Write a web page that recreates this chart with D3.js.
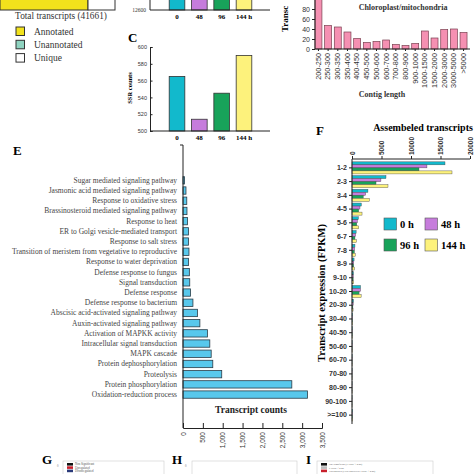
<!DOCTYPE html>
<html>
<head>
<meta charset="utf-8">
<script src="https://cdn.jsdelivr.net/npm/d3@7"></script>
<style>
body { margin: 0; background: #fff; }
svg { display: block; font-family: "Liberation Serif", "Times New Roman", serif; }
.axis path, .axis line { stroke: #222; stroke-width: 1; }
.bold { font-weight: bold; }
</style>
</head>
<body>
<div id="container"></div>
<script>
const width = 474
const height = 474

//-----------------------------DATA-----------------------------//
const timePoints = ['0', '48', '96', '144 h']
const timeLegend = ['0 h', '48 h', '96 h', '144 h']
const timeColors = ['#12b9cc', '#c67cdc', '#18a35a', '#fdf27c']

const legendA = ['Annotated', 'Unannotated', 'Unique']
const legendAColors = ['#f2e21c', '#8fd3c0', '#ffffff']

// panel B: only the base of the bars is visible
const transcriptTotals = [13400, 13350, 13450, 13300]
// panel C
const ssrCounts = [565, 514, 545, 590]

// panel D
const contigBins = ['200-250', '250-300', '300-350', '350-400', '400-450', '450-500', '500-600',
    '600-700', '700-800', '800-900', '900-1000', '1000-1500', '1500-2000', '2000-3000', '3000-5000', '>5000']
const organelleCounts = [130, 47, 44, 34, 21, 13, 15, 18, 9, 7, 11, 36, 22, 39, 40, 33]

// panel E
const goTerms = ['Sugar mediated signaling pathway', 'Jasmonic acid mediated signaling pathway',
    'Response to oxidative stress', 'Brassinosteroid mediated signaling pathway', 'Response to heat',
    'ER to Golgi vesicle-mediated transport', 'Response to salt stress',
    'Transition of meristem from vegetative to reproductive', 'Response to water deprivation',
    'Defense response to fungus', 'Signal transduction', 'Defense response',
    'Defense response to bacterium', 'Abscisic acid-activated signaling pathway',
    'Auxin-activated signaling pathway', 'Activation of MAPKK activity',
    'Intracellular signal transduction', 'MAPK cascade', 'Protein dephosphorylation',
    'Proteolysis', 'Protein phosphorylation', 'Oxidation-reduction process']
const goCounts = [40, 75, 95, 100, 115, 140, 140, 150, 140, 160, 170, 190, 250, 365, 425,
    615, 675, 710, 750, 975, 2740, 3135]
const goTicks = [0, 500, 1000, 1500, 2000, 2500, 3000, 3500]

// panel F
const fpkmBins = ['1-2', '2-3', '3-4', '4-5', '5-6', '6-7', '7-8', '8-9', '9-10', '10-20', '20-30',
    '30-40', '40-50', '50-60', '60-70', '70-80', '80-90', '90-100', '>=100']
const fpkm0 = [15760, 5760, 2700, 1580, 1080, 700, 500, 350, 250, 1450, 250, 90, 60, 50, 40, 35, 30, 25, 90]
const fpkm48 = [12700, 4900, 2300, 1350, 900, 600, 450, 300, 220, 1450, 200, 80, 55, 45, 35, 30, 25, 20, 80]
const fpkm96 = [11350, 4070, 1900, 1130, 800, 500, 400, 280, 200, 1200, 150, 70, 50, 40, 30, 25, 20, 18, 70]
const fpkm144 = [16950, 6100, 2950, 1700, 1130, 750, 550, 400, 280, 1550, 180, 85, 60, 50, 40, 32, 28, 22, 85]
const fpkmTicks = [0, 5000, 10000, 15000, 20000]

// panels G-I (only the tops are visible)
const legendG = ['Non Significant', 'Upregulated', 'Downregulated']
const legendGColors = ['#111', '#c8202c', '#2a3a7a']
const legendI = ['Not Significant (P value > 0.05)', 'P value < 0.05', 'Upregulated (FDR corrected P value < 0.05)']
const legendIColors = ['#111', '#bbb', '#c8202c']

const svg = d3.select('div#container').append('svg')
    .attr('width', width)
    .attr('height', height)

svg.append('rect').attr('width', width).attr('height', height).attr('fill', '#fff')

const letter = (t, x, y) => svg.append('text')
    .attr('x', x).attr('y', y)
    .attr('class', 'bold')
    .style('font-size', '13px')
    .text(t)

//---------------------------PANEL A----------------------------//
svg.append('rect').attr('x', 0).attr('y', -10).attr('width', 88).attr('height', 20)
    .attr('fill', legendAColors[0]).attr('stroke', '#333')
svg.append('rect').attr('x', 88).attr('y', -10).attr('width', 27).attr('height', 20)
    .attr('fill', '#fff').attr('stroke', '#333')
svg.append('text').attr('x', 61).attr('y', 19)
    .attr('text-anchor', 'middle').style('font-size', '9.3px').attr('fill', '#333')
    .text('Total transcripts (41661)')

const legA = svg.append('g').selectAll('g').data(legendA).enter().append('g')
    .attr('transform', (d, i) => `translate(16,${27 + i * 13.3})`)
legA.append('rect').attr('width', 8.5).attr('height', 8.5)
    .attr('fill', (d, i) => legendAColors[i]).attr('stroke', '#333')
legA.append('text').attr('x', 18).attr('y', 7.5)
    .style('font-size', '9.5px').attr('fill', '#333').text(d => d)

//---------------------------PANEL B----------------------------//
const xTime = d3.scaleBand().domain(timePoints).range([162.5, 258.5]).padding(0.3)
const yB = d3.scaleLinear().domain([12600, 12620]).range([10, 0])

svg.append('g').selectAll('rect').data(transcriptTotals).enter().append('rect')
    .attr('x', (d, i) => xTime(timePoints[i]))
    .attr('y', d => Math.max(-5, yB(d)))
    .attr('width', xTime.bandwidth())
    .attr('height', d => yB(12600) - Math.max(-5, yB(d)))
    .attr('fill', (d, i) => timeColors[i]).attr('stroke', '#333').attr('stroke-width', 0.8)

svg.append('line').attr('x1', 150).attr('x2', 270).attr('y1', 10).attr('y2', 10).attr('stroke', '#222')
svg.append('line').attr('x1', 150).attr('x2', 150).attr('y1', 0).attr('y2', 10).attr('stroke', '#222')
svg.append('text').attr('x', 146).attr('y', 12).attr('text-anchor', 'end')
    .style('font-size', '5.5px').attr('fill', '#333').text('12600')
svg.append('g').selectAll('text').data(timePoints).enter().append('text')
    .attr('x', d => xTime(d) + xTime.bandwidth() / 2).attr('y', 19)
    .attr('text-anchor', 'middle').attr('class', 'bold').style('font-size', '7px').text(d => d)

//---------------------------PANEL C----------------------------//
letter('C', 128, 42)
const yC = d3.scaleLinear().domain([500, 600]).range([131, 47])

svg.append('g').selectAll('rect').data(ssrCounts).enter().append('rect')
    .attr('x', (d, i) => xTime(timePoints[i]))
    .attr('y', d => yC(d))
    .attr('width', xTime.bandwidth())
    .attr('height', d => yC(500) - yC(d))
    .attr('fill', (d, i) => timeColors[i]).attr('stroke', '#333').attr('stroke-width', 0.8)

svg.append('g').attr('class', 'axis')
    .attr('transform', 'translate(150,0)')
    .call(d3.axisLeft(yC).tickValues([500, 520, 540, 560, 580, 600]).tickSize(-2.5).tickPadding(3))
    .call(g => g.selectAll('text').style('font-size', '5.5px').attr('fill', '#333'))
svg.append('line').attr('x1', 150).attr('x2', 270).attr('y1', 131).attr('y2', 131).attr('stroke', '#222')
svg.append('g').selectAll('text').data(timePoints).enter().append('text')
    .attr('x', d => xTime(d) + xTime.bandwidth() / 2).attr('y', 140)
    .attr('text-anchor', 'middle').attr('class', 'bold').style('font-size', '7px').text(d => d)
svg.append('text').attr('transform', 'translate(132,88) rotate(-90)')
    .attr('text-anchor', 'middle').attr('class', 'bold').style('font-size', '6.5px').text('SSR counts')

//---------------------------PANEL D----------------------------//
const xD = d3.scaleBand().domain(contigBins).range([314, 468]).paddingInner(0.28).paddingOuter(0.1)
const yD = d3.scaleLinear().domain([0, 100]).range([49, -1])

svg.append('g').selectAll('rect').data(organelleCounts).enter().append('rect')
    .attr('x', (d, i) => xD(contigBins[i]))
    .attr('y', d => Math.max(-5, yD(d)))
    .attr('width', xD.bandwidth())
    .attr('height', d => yD(0) - Math.max(-5, yD(d)))
    .attr('fill', '#f590b2').attr('stroke', '#7a4050').attr('stroke-width', 0.7)

svg.append('g').attr('class', 'axis')
    .attr('transform', 'translate(315,0)')
    .call(d3.axisLeft(yD).tickValues([0, 20, 40, 60, 80]).tickSize(3).tickPadding(2))
    .call(g => g.select('.domain').attr('d', 'M0,-2V49'))
    .call(g => g.selectAll('text').style('font-size', '7px').attr('fill', '#333'))
svg.append('g').attr('class', 'axis')
    .attr('transform', 'translate(0,49)')
    .call(d3.axisBottom(xD).tickSize(2).tickPadding(2))
    .call(g => g.select('.domain').attr('d', 'M315,0H470'))
    .call(g => g.selectAll('text')
        .style('font-size', '7.3px').attr('fill', '#333')
        .attr('transform', 'rotate(-90)')
        .attr('text-anchor', 'end').attr('x', -4).attr('y', 0).attr('dy', '0.32em'))
svg.append('text').attr('x', 403).attr('y', 10).attr('text-anchor', 'middle')
    .attr('class', 'bold').style('font-size', '8px').attr('fill', '#333').text('Chloroplast/mitochondria')
svg.append('text').attr('x', 382).attr('y', 97).attr('text-anchor', 'middle')
    .attr('class', 'bold').style('font-size', '8px').attr('fill', '#333').text('Contig length')
// y title runs off the top of the crop; only its start is visible
svg.append('text').attr('transform', 'translate(288,32) rotate(-90)')
    .attr('class', 'bold').style('font-size', '9px').text('Transc')

//---------------------------PANEL E----------------------------//
letter('E', 13, 155)
const yE = d3.scaleBand().domain(goTerms).range([173.8, 401.1]).padding(0.28)
const xE = d3.scaleLinear().domain([0, 3500]).range([183, 322])

svg.append('g').selectAll('rect').data(goCounts).enter().append('rect')
    .attr('x', xE(0))
    .attr('y', (d, i) => yE(goTerms[i]))
    .attr('width', d => xE(d) - xE(0))
    .attr('height', yE.bandwidth())
    .attr('fill', '#58c8ec').attr('stroke', '#2b3d48').attr('stroke-width', 0.8)

svg.append('g').selectAll('text').data(goTerms).enter().append('text')
    .attr('x', 177).attr('y', d => yE(d) + yE.bandwidth() / 2).attr('dy', '0.32em')
    .attr('text-anchor', 'end').style('font-size', '7.5px').attr('fill', '#444').text(d => d)

svg.append('line').attr('x1', 183).attr('x2', 183).attr('y1', 145).attr('y2', 428).attr('stroke', '#222')
svg.append('line').attr('x1', 183).attr('x2', 180).attr('y1', 145).attr('y2', 145).attr('stroke', '#222')
svg.append('g').attr('class', 'axis')
    .attr('transform', 'translate(0,428)')
    .call(d3.axisBottom(xE).tickValues(goTicks).tickSize(-5).tickPadding(3).tickFormat(d3.format(',')))
    .call(g => g.selectAll('text')
        .style('font-size', '6.5px').attr('fill', '#333')
        .attr('transform', 'rotate(-90)')
        .attr('text-anchor', 'end').attr('x', -4).attr('y', 0).attr('dy', '0.32em'))
svg.append('text').attr('x', 251).attr('y', 413).attr('text-anchor', 'middle')
    .attr('class', 'bold').style('font-size', '9.5px').attr('fill', '#222').text('Transcript counts')

//---------------------------PANEL F----------------------------//
letter('F', 316, 135)
const yF = d3.scaleBand().domain(fpkmBins).range([161, 422]).paddingInner(0.12).paddingOuter(0.06)
const subF = d3.scaleBand().domain(timeLegend).range([0, yF.bandwidth()])
const xF = d3.scaleLinear().domain([0, 20000]).range([352, 470])
const fpkmSeries = [fpkm0, fpkm48, fpkm96, fpkm144]

fpkmSeries.forEach((vals, s) => {
    svg.append('g').selectAll('rect').data(vals).enter().append('rect')
        .attr('x', xF(0))
        .attr('y', (d, i) => yF(fpkmBins[i]) + subF(timeLegend[s]))
        .attr('width', d => xF(d) - xF(0))
        .attr('height', subF.bandwidth())
        .attr('fill', timeColors[s]).attr('stroke', '#444').attr('stroke-width', 0.4)
})

svg.append('g').attr('class', 'axis')
    .attr('transform', 'translate(0,159)')
    .call(d3.axisTop(xF).tickValues(fpkmTicks).tickSize(3).tickPadding(2).tickFormat(d3.format('d')))
    .call(g => g.select('.domain').attr('d', 'M352,0H470'))
    .call(g => g.selectAll('text')
        .style('font-size', '6.5px').style('font-weight', 'bold').attr('fill', '#333')
        .attr('transform', 'rotate(-90)')
        .attr('text-anchor', 'start').attr('x', 4).attr('y', 0).attr('dy', '0.32em'))
svg.append('g').attr('class', 'axis')
    .attr('transform', 'translate(352,0)')
    .call(d3.axisLeft(yF).tickSize(3).tickPadding(2))
    .call(g => g.select('.domain').attr('d', 'M0,159V424'))
    .call(g => g.selectAll('text').style('font-size', '7px').style('font-weight', 'bold').attr('fill', '#333'))
svg.append('text').attr('x', 423).attr('y', 131).attr('text-anchor', 'middle')
    .attr('class', 'bold').style('font-size', '10px').text('Assembeled transcripts')
svg.append('text').attr('transform', 'translate(325,293) rotate(-90)')
    .attr('text-anchor', 'middle').attr('class', 'bold').style('font-size', '10.5px').text('Transcript expression (FPKM)')

const legF = svg.append('g').selectAll('g').data(timeLegend).enter().append('g')
    .attr('transform', (d, i) => `translate(${384 + (i % 2) * 41},${218 + Math.floor(i / 2) * 21})`)
legF.append('rect').attr('width', 12.5).attr('height', 12)
    .attr('fill', (d, i) => timeColors[i]).attr('stroke', '#555').attr('stroke-width', 0.6)
legF.append('text').attr('x', 16).attr('y', 6).attr('dy', '0.35em')
    .attr('class', 'bold').style('font-size', '10.5px').text(d => d)

//-------------------------PANELS G-I---------------------------//
letter('G', 42, 464)
letter('H', 172, 464)
letter('I', 306, 464)
svg.append('rect').attr('x', 63).attr('y', 461).attr('width', 101).attr('height', 20)
    .attr('fill', 'none').attr('stroke', '#ccc').attr('stroke-width', 0.6)
svg.append('rect').attr('x', 192).attr('y', 461).attr('width', 105).attr('height', 20)
    .attr('fill', 'none').attr('stroke', '#ccc').attr('stroke-width', 0.6)
svg.append('rect').attr('x', 317).attr('y', 461).attr('width', 116).attr('height', 20)
    .attr('fill', 'none').attr('stroke', '#ccc').attr('stroke-width', 0.6)

const legG = svg.append('g').selectAll('g').data(legendG).enter().append('g')
    .attr('transform', (d, i) => `translate(67,${463 + i * 3.3})`)
legG.append('rect').attr('width', 6).attr('height', 2.6).attr('fill', (d, i) => legendGColors[i])
legG.append('text').attr('x', 8).attr('y', 2.4).style('font-size', '3px').attr('fill', '#555').text(d => d)

const legI = svg.append('g').selectAll('g').data(legendI).enter().append('g')
    .attr('transform', (d, i) => `translate(321,${463 + i * 3.3})`)
legI.append('rect').attr('width', 6).attr('height', 2.6).attr('fill', (d, i) => legendIColors[i])
legI.append('text').attr('x', 8).attr('y', 2.4).style('font-size', '2.6px').attr('fill', '#555').text(d => d)

svg.append('text').attr('x', 57).attr('y', 467).style('font-size', '3px').attr('fill', '#777').text('0')
svg.append('text').attr('x', 185).attr('y', 467).style('font-size', '3px').attr('fill', '#777').text('0')
</script>
</body>
</html>
